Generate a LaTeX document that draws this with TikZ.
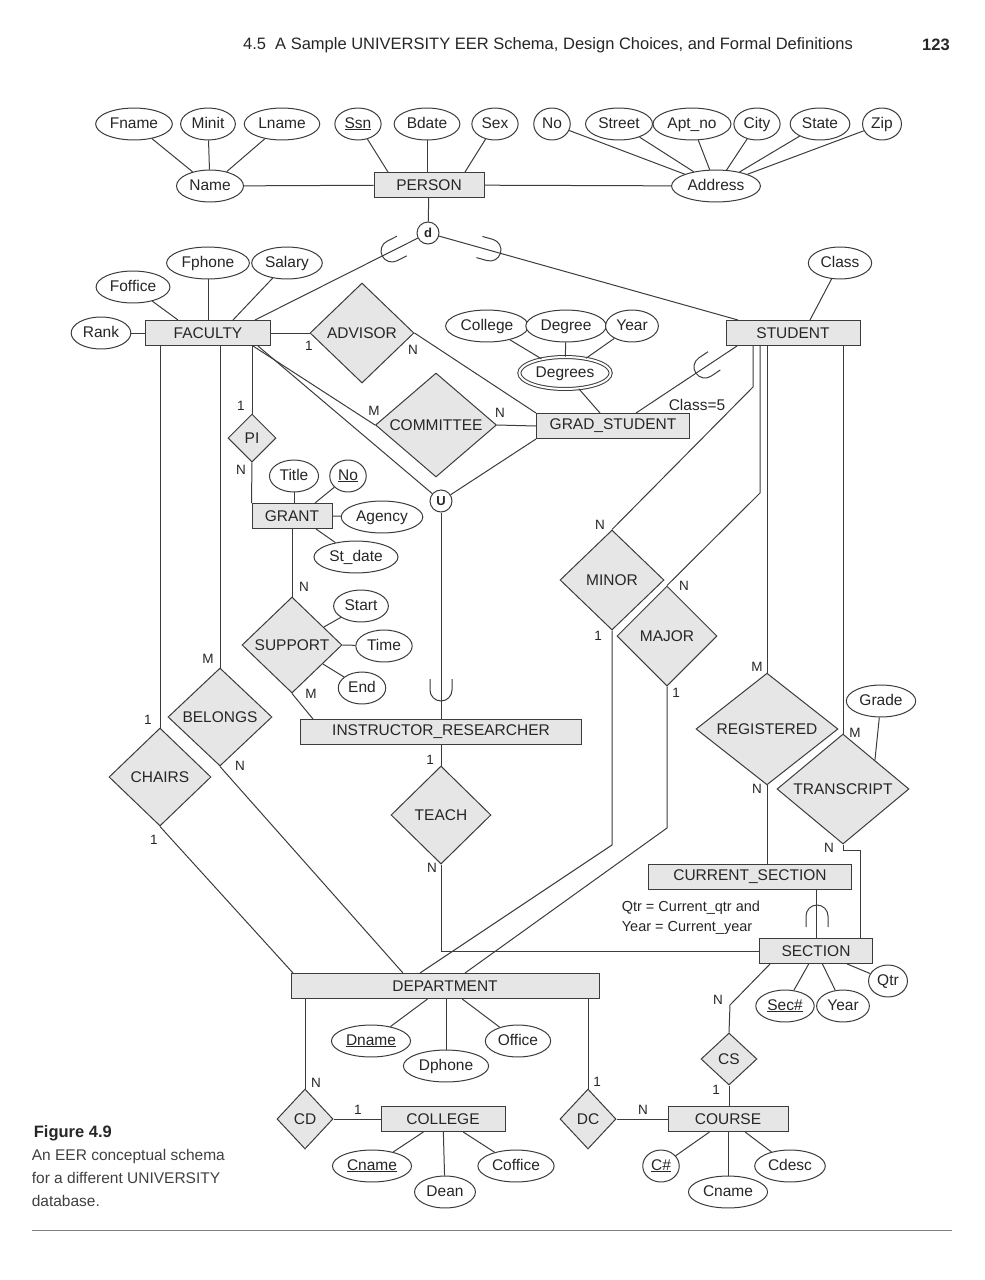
\documentclass[tikz,border=0pt]{standalone}
\usepackage{fontspec}
\setmainfont{Liberation Sans}
\usetikzlibrary{shapes.geometric,calc}
\definecolor{ln}{HTML}{3C3C3C}
\definecolor{fl}{HTML}{E6E6E6}
\begin{document}
\begin{tikzpicture}[x=1pt,y=-1pt,color=ln,line width=1pt,
  every node/.style={font=\fontsize{15.5}{17}\selectfont,text=black!85},
  ent/.style={draw=ln,fill=fl,minimum height=25pt,inner sep=0pt},
  att/.style={draw=ln,ellipse,inner xsep=3pt,inner ysep=4.3pt,text height=11pt,text depth=3pt,fill=white},
  rel/.style={draw=ln,fill=fl,diamond,inner sep=0pt},
  crd/.style={font=\fontsize{13.5}{15}\selectfont},
  circ/.style={draw=ln,circle,fill=white,minimum size=22pt,inner sep=0pt,font=\fontsize{13}{15}\selectfont\bfseries},
  sub/.style={line width=1pt}]
\useasboundingbox (0,0) rectangle (985,1280);
% header
\node[font=\fontsize{16.5}{19}\selectfont] (hdr) at (548,45) {4.5\ \ A Sample UNIVERSITY EER Schema, Design Choices, and Formal Definitions};
\node[font=\fontsize{16.5}{19}\selectfont\bfseries] (pg) at (936,45) {123};
% top attributes
\node[att] (Fname) at (134,124) {Fname};
\node[att] (Minit) at (208,124) {Minit};
\node[att] (Lname) at (282,124) {Lname};
\node[att] (Ssn) at (358,124) {\underline{Ssn}};
\node[att] (Bdate) at (427,124) {Bdate};
\node[att] (Sex) at (495,124) {Sex};
\node[att] (No) at (552,124) {No};
\node[att] (Street) at (619,124) {Street};
\node[att] (Apt) at (692,124) {Apt\_no};
\node[att] (City) at (757,124) {City};
\node[att] (State) at (820,124) {State};
\node[att] (Zip) at (882,124) {Zip};
\node[att] (Name) at (210,186) {Name};
\node[att] (Address) at (716,186) {Address};
\node[ent,minimum width=110pt] (PERSON) at (429,185) {PERSON};
\node[circ] (d) at (428,233) {d};
% faculty / student
\node[ent,minimum width=125pt] (FACULTY) at (208,333) {FACULTY};
\node[ent,minimum width=134pt] (STUDENT) at (793,333) {STUDENT};
\node[att] (Class) at (840,263) {Class};
\node[att] (Fphone) at (208,263) {Fphone};
\node[att] (Salary) at (287,263) {Salary};
\node[att] (Foffice) at (133,287) {Foffice};
\node[att] (Rank) at (101,333) {Rank};
\node[rel,minimum width=104pt,minimum height=100pt] (ADVISOR) at (362,333) {ADVISOR};
\node[att] (College) at (487,326) {College};
\node[att] (Degree) at (566,326) {Degree};
\node[att] (Year) at (632,326) {Year};
\node[att,double,double distance=2pt] (Degrees) at (565,373) {Degrees};
\node[ent,minimum width=153pt] (GRAD) at (613,426) {GRAD\_STUDENT};
\node (cl5) at (697,405) {Class=5};
\node[rel,minimum width=121pt,minimum height=100pt] (COMMITTEE) at (436,425) {COMMITTEE};
\node[rel,minimum width=48pt,minimum height=48pt] (PI) at (252,438) {PI};
\node[circ] (U) at (441,501) {U};
\node[ent,minimum width=80pt] (GRANT) at (292,516) {GRANT};
\node[att] (Title) at (294,476) {Title};
\node[att] (GNo) at (348,476) {\underline{No}};
\node[att] (Agency) at (382,517) {Agency};
\node[att] (Stdate) at (356,557) {St\_date};
\node[rel,minimum width=100pt,minimum height=96pt] (SUPPORT) at (292,645) {SUPPORT};
\node[att] (Start) at (361,606) {Start};
\node[att] (Time) at (384,646) {Time};
\node[att] (End) at (362,688) {End};
\node[ent,minimum width=281pt] (IR) at (441,732) {INSTRUCTOR\_RESEARCHER};
\node[rel,minimum width=104pt,minimum height=98pt] (BELONGS) at (220,717) {BELONGS};
\node[rel,minimum width=102pt,minimum height=98pt] (CHAIRS) at (160,777) {CHAIRS};
\node[rel,minimum width=100pt,minimum height=98pt] (TEACH) at (441,815) {TEACH};
\node[rel,minimum width=104pt,minimum height=100pt] (MINOR) at (612,580) {MINOR};
\node[rel,minimum width=100pt,minimum height=100pt] (MAJOR) at (667,636) {MAJOR};
\node[rel,minimum width=142pt,minimum height=100pt] (REG) at (767,729) {REGISTERED};
\node[rel,minimum width=132pt,minimum height=100pt] (TRANS) at (843,789) {TRANSCRIPT};
\node[att] (Grade) at (881,701) {Grade};
\node[ent,minimum width=203pt] (CURSEC) at (750,877) {CURRENT\_SECTION};
\node[align=left,anchor=west,font=\fontsize{14.5}{20}\selectfont] (cond) at (618,918) {Qtr = Current\_qtr and\\Year = Current\_year};
\node[ent,minimum width=113pt] (SECTION) at (816,951) {SECTION};
\node[att] (Qtr) at (888,981) {Qtr};
\node[att] (SYear) at (843,1006) {Year};
\node[att] (Sec) at (785,1006) {\underline{Sec\#}};
\node[ent,minimum width=308pt] (DEPT) at (445,986) {DEPARTMENT};
\node[att] (Dname) at (371,1041) {\underline{Dname}};
\node[att] (Dphone) at (446,1066) {Dphone};
\node[att] (Office) at (518,1041) {Office};
\node[rel,minimum width=56pt,minimum height=52pt] (CS) at (729,1059) {CS};
\node[ent,minimum width=120pt] (COURSE) at (728,1119) {COURSE};
\node[att] (Cnum) at (661,1166) {\underline{C\#}};
\node[att] (Cname2) at (728,1192) {Cname};
\node[att] (Cdesc) at (790,1166) {Cdesc};
\node[rel,minimum width=56pt,minimum height=60pt] (DC) at (588,1119) {DC};
\node[rel,minimum width=56pt,minimum height=60pt] (CD) at (305,1119) {CD};
\node[ent,minimum width=124pt] (COLLEGE) at (443,1119) {COLLEGE};
\node[att] (Cname) at (372,1166) {\underline{Cname}};
\node[att] (Dean) at (445,1192) {Dean};
\node[att] (Coffice) at (516,1166) {Coffice};
% caption
\node[anchor=west,font=\fontsize{16.5}{19}\selectfont\bfseries] (figt) at (30,1133) {Figure 4.9};
\node[anchor=north west,align=left,font=\fontsize{15.5}{23}\selectfont,text=black!75] (figc) at (28,1145) {An EER conceptual schema\\for a different UNIVERSITY\\database.};
\coordinate (r1) at (32,1230); \coordinate (r2) at (952,1230);
\draw[draw=black!50] (r1) -- (r2);

% connectors
\draw (Fname) -- (Name); \draw (Minit) -- (Name); \draw (Lname) -- (Name);
\draw (Name) -- (PERSON); \draw (PERSON) -- (Address);
\foreach \a in {No,Street,Apt,City,State,Zip} \draw (\a) -- (Address);
\draw (Ssn) -- ([xshift=-41pt]PERSON.north);
\draw (Bdate) -- (Bdate |- PERSON.north);
\draw (Sex) -- ([xshift=36pt]PERSON.north);
\draw (PERSON) -- (d);
\draw (d) -- ([xshift=47pt]FACULTY.north);
\draw (d) -- ([xshift=-55pt]STUDENT.north);
\draw (Class) -- ([xshift=17pt]STUDENT.north);
\draw (Fphone) -- (FACULTY.north);
\draw (Salary) -- ([xshift=25pt]FACULTY.north);
\draw (Foffice) -- ([xshift=-30pt]FACULTY.north);
\draw (Rank) -- (FACULTY);
\draw (FACULTY.east) -- (ADVISOR.west);
\draw (ADVISOR.east) -- (GRAD.north west);
\draw ([xshift=45pt]FACULTY.south) -- (COMMITTEE.west);
\draw ([xshift=50pt]FACULTY.south) -- (U);
\draw (COMMITTEE.east) -- (GRAD.west);
\draw (GRAD.south west) -- (U);
\draw ([xshift=23pt]GRAD.north) -- ([xshift=-56pt]STUDENT.south);
\draw (Degrees) -- ([xshift=-13pt]GRAD.north);
\draw (College) -- (Degrees); \draw (Degree) -- (Degrees); \draw (Year) -- (Degrees);
\draw ([xshift=44pt]FACULTY.south) -- (PI.north);
\draw (PI.south) -- (GRANT.north west);
\draw (GRANT.south) -- (SUPPORT.north);
\draw (Title) -- (Title |- GRANT.north);
\draw (GNo) -- ([xshift=23pt]GRANT.north);
\draw (Agency) -- (GRANT.east);
\draw (Stdate) -- ([xshift=24pt]GRANT.south);
\draw (SUPPORT) -- (Start); \draw (SUPPORT.east) -- (Time); \draw (SUPPORT) -- (End);
\draw (SUPPORT.south) -- ([xshift=-128pt]IR.north);
\draw (U) -- (IR.north);
\draw (IR.south) -- (TEACH.north);
\draw (TEACH.south) |- (SECTION.west);
\draw ([xshift=-48pt]FACULTY.south) -- (CHAIRS.north);
\draw ([xshift=12pt]FACULTY.south) -- (BELONGS.north);
\draw (CHAIRS.south) -- ([xshift=-152pt]DEPT.north);
\draw (BELONGS.south) -- ([xshift=-42pt]DEPT.north);
\coordinate (mi1) at (753,387); \coordinate (mi2) at (612,845);
\draw ([xshift=-40pt]STUDENT.south) -- (mi1) -- (MINOR.north);
\draw (MINOR.south) -- (mi2) -- ([xshift=-25pt]DEPT.north);
\coordinate (ma1) at (760,493); \coordinate (ma2) at (667,828);
\draw ([xshift=-33pt]STUDENT.south) -- (ma1) -- (MAJOR.north);
\draw (MAJOR.south) -- (ma2) -- ([xshift=20pt]DEPT.north);
\draw ([xshift=-26pt]STUDENT.south) -- (REG.north);
\draw ([xshift=50pt]STUDENT.south) -- (TRANS.north);
\draw (Grade) -- ($(TRANS.north)!0.48!(TRANS.east)$);
\draw (REG.south) -- (REG.south |- CURSEC.north);
\coordinate (tr1) at (843,850);
\draw (TRANS.south) -- (tr1) -| ([xshift=44pt]SECTION.north);
\draw (SECTION.north) -- (SECTION.north |- CURSEC.south);
\draw (SECTION) -- (Sec); \draw (SECTION) -- (SYear); \draw (SECTION) -- (Qtr);
\coordinate (cs1) at (730,1005);
\draw ([xshift=-46pt]SECTION.south) -- (cs1) -- (CS.north);
\draw (CS.south) -- (CS.south |- COURSE.north);
\draw (COURSE) -- (Cnum); \draw (COURSE) -- (Cname2); \draw (COURSE) -- (Cdesc);
\draw ([xshift=143pt]DEPT.south) -- (DC.north);
\draw (DC.east) -- (COURSE.west);
\draw ([xshift=-140pt]DEPT.south) -- (CD.north);
\draw (CD.east) -- (COLLEGE.west);
\draw (DEPT) -- (Dname); \draw (DEPT.south -| Dphone) -- (Dphone); \draw (DEPT) -- (Office);
\draw (COLLEGE) -- (Cname); \draw (COLLEGE) -- (Dean); \draw (COLLEGE) -- (Coffice);
% subset symbols
\foreach \x/\y/\a in {392/251/206.7, 490/250/-15.7, 705/367/-146, 441/690/-90, 817/916/90}{
  \begin{scope}[shift={(\x,\y)},rotate=\a]
  \draw[sub] (-11,-11) -- (0,-11) arc[start angle=90,end angle=-90,radius=11pt] -- (-11,11);
  \end{scope}}
% cardinalities
\foreach \t/\x/\y in {1/309/346,N/413/350,M/374/411,N/500/413,1/241/406,N/241/470,N/304/587,M/311/694,1/148/720,1/154/840,M/208/659,N/240/766,1/430/760,N/432/868,N/600/525,1/598/636,N/684/586,1/676/693,M/757/667,N/757/789,M/855/733,N/829/848,N/718/1000,1/716/1090,1/597/1082,N/643/1110,N/316/1083,1/358/1110}
  \node[crd] at (\x,\y) {\t};
\end{tikzpicture}
\end{document}
